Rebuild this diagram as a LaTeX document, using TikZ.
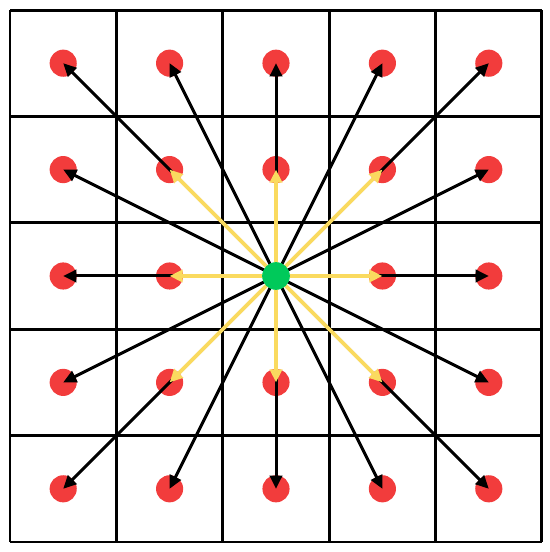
\documentclass[tikz,border=0pt]{standalone}
\usetikzlibrary{arrows.meta}
\definecolor{dot-red}{RGB}{242, 60, 60}
\definecolor{dot-green}{RGB}{0, 201, 90}
\definecolor{ray-yellow}{RGB}{250, 218, 95}

\begin{document}
\begin{tikzpicture}[
    dot/.style={circle, fill=dot-red, inner sep=0pt, minimum size=0.51cm},
    hub/.style={circle, fill=dot-green, inner sep=0pt, minimum size=0.52cm},
    outer/.style={black, line width=1.6pt, -{Triangle[length=7pt,width=6.5pt]}},
    inner/.style={ray-yellow, line width=1.9pt, -{Triangle[length=7pt,width=6.5pt]}}]
\useasboundingbox (-0.188,-0.188) rectangle (10.15,10.188);
\draw[line width=1.6pt] (0,0) grid[step=2] (10,10);
\coordinate (c) at (5,5);
% red dots, rXY = column X, row Y (from top)
\node[dot] (r11) at (1,9) {};
\node[dot] (r21) at (3,9) {};
\node[dot] (r31) at (5,9) {};
\node[dot] (r41) at (7,9) {};
\node[dot] (r51) at (9,9) {};
\node[dot] (r12) at (1,7) {};
\node[dot] (r22) at (3,7) {};
\node[dot] (r32) at (5,7) {};
\node[dot] (r42) at (7,7) {};
\node[dot] (r52) at (9,7) {};
\node[dot] (r13) at (1,5) {};
\node[dot] (r23) at (3,5) {};
\node[dot] (r43) at (7,5) {};
\node[dot] (r53) at (9,5) {};
\node[dot] (r14) at (1,3) {};
\node[dot] (r24) at (3,3) {};
\node[dot] (r34) at (5,3) {};
\node[dot] (r44) at (7,3) {};
\node[dot] (r54) at (9,3) {};
\node[dot] (r15) at (1,1) {};
\node[dot] (r25) at (3,1) {};
\node[dot] (r35) at (5,1) {};
\node[dot] (r45) at (7,1) {};
\node[dot] (r55) at (9,1) {};
% outer ring
\draw[outer] (c) -- (r11.center);
\draw[outer] (c) -- (r21.center);
\draw[outer] (c) -- (r31.center);
\draw[outer] (c) -- (r41.center);
\draw[outer] (c) -- (r51.center);
\draw[outer] (c) -- (r12.center);
\draw[outer] (c) -- (r52.center);
\draw[outer] (c) -- (r13.center);
\draw[outer] (c) -- (r53.center);
\draw[outer] (c) -- (r14.center);
\draw[outer] (c) -- (r54.center);
\draw[outer] (c) -- (r15.center);
\draw[outer] (c) -- (r25.center);
\draw[outer] (c) -- (r35.center);
\draw[outer] (c) -- (r45.center);
\draw[outer] (c) -- (r55.center);
% inner ring
\draw[inner] (c) -- (r22.center);
\draw[inner] (c) -- (r32.center);
\draw[inner] (c) -- (r42.center);
\draw[inner] (c) -- (r23.center);
\draw[inner] (c) -- (r43.center);
\draw[inner] (c) -- (r24.center);
\draw[inner] (c) -- (r34.center);
\draw[inner] (c) -- (r44.center);
\node[hub] (g) at (c) {};
\end{tikzpicture}
\end{document}
